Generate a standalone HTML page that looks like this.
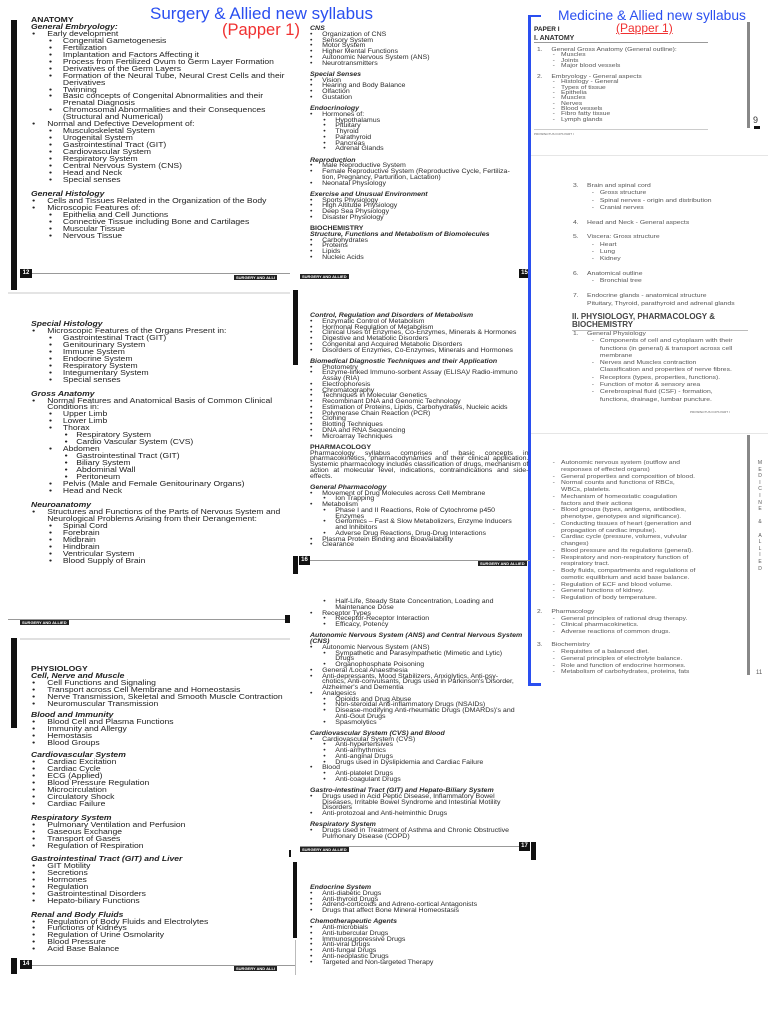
<!DOCTYPE html>
<html><head><meta charset="utf-8">
<style>
*{margin:0;padding:0;box-sizing:border-box}
body{width:768px;height:1024px;position:relative;background:#fff;font-family:"Liberation Sans",sans-serif;overflow:hidden}
.abs{position:absolute}
.blk{position:absolute;white-space:nowrap;transform-origin:0 0}
.blk div{position:relative}
.L{font-size:7.4px;line-height:6.95px;color:#222;transform:scaleX(1.16)}
.M{font-size:6.1px;line-height:5.75px;color:#2a2a2a;transform:scaleX(1.15)}
.R{font-size:5.6px;line-height:5.35px;color:#555;transform:scaleX(1.2)}
.R2{font-size:5.8px;line-height:7.3px;color:#555;transform:scaleX(1.17)}
.h{font-weight:bold}
.i{font-weight:bold;font-style:italic}
.L .a{padding-left:14px}.L .b{padding-left:27.5px}.L .c{padding-left:39px}
.L .a:before,.L .b:before,.L .c:before{content:"•";position:absolute}
.L .a:before{left:1px}.L .b:before{left:15.5px}.L .c:before{left:29px}
.L .ac{padding-left:14px}.L .bc{padding-left:27.5px}
.M .a{padding-left:10.5px}.M .b{padding-left:22px}.M .ac{padding-left:10.5px}.M .bc{padding-left:22px}
.M .a:before,.M .b:before{content:"•";position:absolute}
.M .a:before{left:0}.M .b:before{left:11.5px}
.R .n,.R2 .n{padding-left:12px}
.R .n span,.R2 .n span{position:absolute;left:0}
.R .d{padding-left:20px}.R .d:before{content:"-";position:absolute;left:13px}
.R2 .d{padding-left:23px}.R2 .d:before{content:"-";position:absolute;left:16px}
.R2 .dc{padding-left:23px}
.R .dc{padding-left:20px}
.g5{height:5.5px}.g7{height:7px}.g6{height:6px}
.bar{position:absolute;background:#111}
.tag{position:absolute;background:#222;color:#fff;font-size:4px;line-height:5px;font-weight:bold;padding:0 2px}
.num{position:absolute;background:#111;color:#fff;font-size:6px;font-weight:bold;line-height:9px;text-align:center}
.hl{position:absolute;background:#999;height:1px}
</style></head><body>

<!-- titles -->
<div class="abs" style="left:150px;top:4px;font-size:17px;color:#2a4ff0">Surgery &amp; Allied new syllabus</div>
<div class="abs" style="left:222px;top:21px;font-size:16.5px;color:#f03030">(Papper 1)</div>

<!-- left top panel -->
<div class="bar" style="left:11px;top:20px;width:6px;height:270px"></div>
<div class="blk L" style="left:31px;top:17px">
<div class="h">ANATOMY</div>
<div class="i">General Embryology:</div>
<div class="a">Early development</div>
<div class="b">Congenital Gametogenesis</div>
<div class="b">Fertilization</div>
<div class="b">Implantation and Factors Affecting it</div>
<div class="b">Process from Fertilized Ovum to Germ Layer Formation</div>
<div class="b">Derivatives of the Germ Layers</div>
<div class="b">Formation of the Neural Tube, Neural Crest Cells and their</div>
<div class="bc">Derivatives</div>
<div class="b">Twinning</div>
<div class="b">Basic concepts of Congenital Abnormalities and their</div>
<div class="bc">Prenatal Diagnosis</div>
<div class="b">Chromosomal Abnormalities and their Consequences</div>
<div class="bc">(Structural and Numerical)</div>
<div class="a">Normal and Defective Development of:</div>
<div class="b">Musculoskeletal System</div>
<div class="b">Urogenital System</div>
<div class="b">Gastrointestinal Tract (GIT)</div>
<div class="b">Cardiovascular System</div>
<div class="b">Respiratory System</div>
<div class="b">Central Nervous System (CNS)</div>
<div class="b">Head and Neck</div>
<div class="b">Special senses</div>
<div class="g7"></div>
<div class="i">General Histology</div>
<div class="a">Cells and Tissues Related in the Organization of the Body</div>
<div class="a">Microscopic Features of:</div>
<div class="b">Epithelia and Cell Junctions</div>
<div class="b">Connective Tissue including Bone and Cartilages</div>
<div class="b">Muscular Tissue</div>
<div class="b">Nervous Tissue</div>
</div>
<div class="hl" style="left:20px;top:273px;width:270px"></div>
<div class="num" style="left:20px;top:269px;width:12px">12</div>
<div class="tag" style="left:234px;top:275px">SURGERY AND ALLI</div>

<!-- middle top -->
<div class="blk M" style="left:310px;top:26px">
<div class="i">CNS</div>
<div class="a">Organization of CNS</div>
<div class="a">Sensory System</div>
<div class="a">Motor System</div>
<div class="a">Higher Mental Functions</div>
<div class="a">Autonomic Nervous System (ANS)</div>
<div class="a">Neurotransmitters</div>
<div class="g5"></div>
<div class="i">Special Senses</div>
<div class="a">Vision</div>
<div class="a">Hearing and Body Balance</div>
<div class="a">Olfaction</div>
<div class="a">Gustation</div>
<div class="g5"></div>
<div class="i">Endocrinology</div>
<div class="a">Hormones of:</div>
<div class="b">Hypothalamus</div>
<div class="b">Pituitary</div>
<div class="b">Thyroid</div>
<div class="b">Parathyroid</div>
<div class="b">Pancreas</div>
<div class="b">Adrenal Glands</div>
<div class="g5"></div>
<div class="i">Reproduction</div>
<div class="a">Male Reproductive System</div>
<div class="a">Female Reproductive System (Reproductive Cycle, Fertiliza-</div>
<div class="ac">tion, Pregnancy, Parturition, Lactation)</div>
<div class="a">Neonatal Physiology</div>
<div class="g5"></div>
<div class="i">Exercise and Unusual Environment</div>
<div class="a">Sports Physiology</div>
<div class="a">High Altitude Physiology</div>
<div class="a">Deep Sea Physiology</div>
<div class="a">Disaster Physiology</div>
<div class="g5"></div>
<div class="h">BIOCHEMISTRY</div>
<div class="i">Structure, Functions and Metabolism of Biomolecules</div>
<div class="a">Carbohydrates</div>
<div class="a">Proteins</div>
<div class="a">Lipids</div>
<div class="a">Nucleic Acids</div>
</div>
<div class="tag" style="left:300px;top:274px">SURGERY AND ALLIED</div>
<div class="num" style="left:519px;top:269px;width:11px">15</div>

<!-- blue frame -->
<div class="abs" style="left:528px;top:15px;width:3px;height:671px;background:#2a4ff0"></div>
<div class="abs" style="left:528px;top:15px;width:13px;height:2px;background:#2a4ff0"></div>
<div class="abs" style="left:528px;top:683px;width:13px;height:3px;background:#2a4ff0"></div>

<!-- right top -->
<div class="abs" style="left:558px;top:8px;font-size:13.8px;color:#2a4ff0">Medicine &amp; Allied new syllabus</div>
<div class="abs" style="left:616px;top:21px;font-size:12px;color:#f03030;text-decoration:underline">(Papper 1)</div>
<div class="abs h" style="left:534px;top:26px;font-size:6.5px;font-weight:bold;color:#222">PAPER I</div>
<div class="abs" style="left:534px;top:35px;font-size:7px;font-weight:bold;color:#333">I. ANATOMY</div>
<div class="hl" style="left:534px;top:42px;width:174px"></div>
<div class="blk R" style="left:537px;top:48px">
<div class="n"><span>1.</span>General Gross Anatomy (General outline):</div>
<div class="d">Muscles</div><div class="d">Joints</div><div class="d">Major blood vessels</div>
<div class="g5"></div>
<div class="n"><span>2.</span>Embryology - General aspects</div>
<div class="d">Histology - General</div><div class="d">Types of tissue</div><div class="d">Epithelia</div><div class="d">Muscles</div><div class="d">Nerves</div><div class="d">Blood vessels</div><div class="d">Fibro fatty tissue</div><div class="d">Lymph glands</div>
</div>
<div class="hl" style="left:534px;top:129px;width:174px;background:#ccc"></div>
<div class="abs" style="left:534px;top:132px;font-size:3px;color:#666">PROSPECTUS FCPS PART I</div>
<div class="abs" style="left:747px;top:22px;width:3px;height:106px;background:#888"></div>
<div class="abs" style="left:753px;top:115px;font-size:9px;color:#333">9</div>
<div class="abs" style="left:754px;top:126px;width:6px;height:3px;background:#111"></div>
<div class="hl" style="left:531px;top:155px;width:237px;background:#e6e6e6"></div>

<!-- right middle -->
<div class="blk R2" style="left:573px;top:183px">
<div class="n"><span>3.</span>Brain and spinal cord</div>
<div class="d">Gross structure</div><div class="d">Spinal nerves - origin and distribution</div><div class="d">Cranial nerves</div>
<div style="height:7.5px"></div>
<div class="n"><span>4.</span>Head and Neck - General aspects</div>
<div style="height:7.5px"></div>
<div class="n"><span>5.</span>Viscera: Gross structure</div>
<div class="d">Heart</div><div class="d">Lung</div><div class="d">Kidney</div>
<div style="height:7.5px"></div>
<div class="n"><span>6.</span>Anatomical outline</div>
<div class="d">Bronchial tree</div>
<div style="height:7.5px"></div>
<div class="n"><span>7.</span>Endocrine glands - anatomical structure</div>
<div class="n">Pituitary, Thyroid, parathyroid and adrenal glands</div>
</div>
<div class="abs" style="left:572px;top:313px;font-size:8px;line-height:8px;font-weight:bold;color:#444">II. PHYSIOLOGY, PHARMACOLOGY &amp;<br>BIOCHEMISTRY</div>
<div class="hl" style="left:572px;top:330px;width:176px;background:#bbb"></div>
<div class="blk R2" style="left:573px;top:331px">
<div class="n"><span>1.</span>General Physiology</div>
<div class="d">Components of cell and cytoplasm with their</div>
<div class="dc">functions (in general) &amp; transport across cell</div>
<div class="dc">membrane</div>
<div class="d">Nerves and Muscles contraction</div>
<div class="dc">Classification and properties of nerve fibres.</div>
<div class="d">Receptors (types, properties, functions).</div>
<div class="d">Function of motor &amp; sensory area</div>
<div class="d">Cerebrospinal fluid (CSF) - formation,</div>
<div class="dc">functions, drainage, lumbar puncture.</div>
</div>
<div class="abs" style="left:690px;top:410px;font-size:3px;color:#666">PROSPECTUS FCPS PART I</div>
<div class="hl" style="left:531px;top:433px;width:237px;background:#e6e6e6"></div>

<!-- right lower -->
<div class="abs" style="left:747px;top:435px;width:3px;height:240px;background:#888"></div>
<div class="blk R" style="left:537px;top:460px;line-height:6.75px">
<div class="d">Autonomic nervous system (outflow and</div>
<div class="dc">responses of effected organs)</div>
<div class="d">General properties and composition of blood.</div>
<div class="d">Normal counts and functions of RBCs,</div>
<div class="dc">WBCs, platelets.</div>
<div class="d">Mechanism of homeostatic coagulation</div>
<div class="dc">factors and their actions</div>
<div class="d">Blood groups (types, antigens, antibodies,</div>
<div class="dc">phenotype, genotypes and significance).</div>
<div class="d">Conducting tissues of heart (generation and</div>
<div class="dc">propagation of cardiac impulse).</div>
<div class="d">Cardiac cycle (pressure, volumes, vulvular</div>
<div class="dc">changes)</div>
<div class="d">Blood pressure and its regulations (general).</div>
<div class="d">Respiratory and non-respiratory function of</div>
<div class="dc">respiratory tract.</div>
<div class="d">Body fluids, compartments and regulations of</div>
<div class="dc">osmotic equilibrium and acid base balance.</div>
<div class="d">Regulation of ECF and blood volume.</div>
<div class="d">General functions of kidney.</div>
<div class="d">Regulation of body temperature.</div>
<div style="height:7px"></div>
<div class="n"><span>2.</span>Pharmacology</div>
<div class="d">General principles of rational drug therapy.</div>
<div class="d">Clinical pharmacokinetics.</div>
<div class="d">Adverse reactions of common drugs.</div>
<div style="height:6.5px"></div>
<div class="n"><span>3.</span>Biochemistry</div>
<div class="d">Requisites of a balanced diet.</div>
<div class="d">General principles of electrolyte balance.</div>
<div class="d">Role and function of endocrine hormones.</div>
<div class="d">Metabolism of carbohydrates, proteins, fats</div>
</div>
<div class="abs" style="left:757px;top:460px;width:6px;font-size:5px;line-height:6.6px;color:#555;text-align:center">M<br>E<br>D<br>I<br>C<br>I<br>N<br>E<br>&nbsp;<br>&amp;<br>&nbsp;<br>A<br>L<br>L<br>I<br>E<br>D</div>
<div class="abs" style="left:756px;top:670px;font-size:6px;color:#555">11</div>

<!-- left middle panel -->
<div class="hl" style="left:8px;top:292px;width:282px;background:#e4e4e4;height:2px"></div>
<div class="blk L" style="left:31px;top:321px">
<div class="i">Special Histology</div>
<div class="a">Microscopic Features of the Organs Present in:</div>
<div class="b">Gastrointestinal Tract (GIT)</div>
<div class="b">Genitourinary System</div>
<div class="b">Immune System</div>
<div class="b">Endocrine System</div>
<div class="b">Respiratory System</div>
<div class="b">Integumentary System</div>
<div class="b">Special senses</div>
<div class="g7"></div>
<div class="i">Gross Anatomy</div>
<div class="a">Normal Features and Anatomical Basis of Common Clinical</div>
<div class="ac">Conditions in:</div>
<div class="b">Upper Limb</div>
<div class="b">Lower Limb</div>
<div class="b">Thorax</div>
<div class="c">Respiratory System</div>
<div class="c">Cardio Vascular System (CVS)</div>
<div class="b">Abdomen</div>
<div class="c">Gastrointestinal Tract (GIT)</div>
<div class="c">Biliary System</div>
<div class="c">Abdominal Wall</div>
<div class="c">Peritoneum</div>
<div class="b">Pelvis (Male and Female Genitourinary Organs)</div>
<div class="b">Head and Neck</div>
<div class="g7"></div>
<div class="i">Neuroanatomy</div>
<div class="a">Structures and Functions of the Parts of Nervous System and</div>
<div class="ac">Neurological Problems Arising from their Derangement:</div>
<div class="b">Spinal Cord</div>
<div class="b">Forebrain</div>
<div class="b">Midbrain</div>
<div class="b">Hindbrain</div>
<div class="b">Ventricular System</div>
<div class="b">Blood Supply of Brain</div>
</div>
<div class="hl" style="left:8px;top:619px;width:280px"></div>
<div class="bar" style="left:285px;top:615px;width:5px;height:8px"></div>
<div class="tag" style="left:20px;top:620px">SURGERY AND ALLIED</div>

<!-- middle panel 2 -->
<div class="bar" style="left:293px;top:290px;width:5px;height:75px"></div>
<div class="blk M" style="left:310px;top:313px">
<div class="i">Control, Regulation and Disorders of Metabolism</div>
<div class="a">Enzymatic Control of Metabolism</div>
<div class="a">Hormonal Regulation of Metabolism</div>
<div class="a">Clinical Uses of Enzymes, Co-Enzymes, Minerals &amp; Hormones</div>
<div class="a">Digestive and Metabolic Disorders</div>
<div class="a">Congenital and Acquired Metabolic Disorders</div>
<div class="a">Disorders of Enzymes, Co-Enzymes, Minerals and Hormones</div>
<div class="g5"></div>
<div class="i">Biomedical Diagnostic Techniques and their Application</div>
<div class="a">Photometry</div>
<div class="a">Enzyme-linked Immuno-sorbent Assay (ELISA)/ Radio-immuno</div>
<div class="ac">Assay (RIA)</div>
<div class="a">Electrophoresis</div>
<div class="a">Chromatography</div>
<div class="a">Techniques in Molecular Genetics</div>
<div class="a">Recombinant DNA and Genomic Technology</div>
<div class="a">Estimation of Proteins, Lipids, Carbohydrates, Nucleic acids</div>
<div class="a">Polymerase Chain Reaction (PCR)</div>
<div class="a">Cloning</div>
<div class="a">Blotting Techniques</div>
<div class="a">DNA and RNA Sequencing</div>
<div class="a">Microarray Techniques</div>
<div class="g5"></div>
<div class="h">PHARMACOLOGY</div>
<div style="white-space:normal;width:190px;text-align:justify">Pharmacology syllabus comprises of basic concepts in pharmacokinetics, pharmacodynamics and their clinical application. Systemic pharmacology includes classification of drugs, mechanism of action at molecular level, indications, contraindications and side-effects.</div>
<div class="g5"></div>
<div class="i">General Pharmacology</div>
<div class="a">Movement of Drug Molecules across Cell Membrane</div>
<div class="b">Ion Trapping</div>
<div class="a">Metabolism</div>
<div class="b">Phase I and II Reactions, Role of Cytochrome p450</div>
<div class="bc">Enzymes</div>
<div class="b">Genomics – Fast &amp; Slow Metabolizers, Enzyme Inducers</div>
<div class="bc">and Inhibitors</div>
<div class="b">Adverse Drug Reactions, Drug-Drug Interactions</div>
<div class="a">Plasma Protein Binding and Bioavailability</div>
<div class="a">Clearance</div>
</div>
<div class="hl" style="left:300px;top:560px;width:230px"></div>
<div class="num" style="left:299px;top:556px;width:11px">16</div>
<div class="tag" style="left:478px;top:561px">SURGERY AND ALLIED</div>
<div class="bar" style="left:293px;top:556px;width:5px;height:18px"></div>

<!-- middle panel 3 -->
<div class="blk M" style="left:310px;top:599px">
<div class="b">Half-Life, Steady State Concentration, Loading and</div>
<div class="bc">Maintenance Dose</div>
<div class="a">Receptor Types</div>
<div class="b">Receptor-Receptor Interaction</div>
<div class="b">Efficacy, Potency</div>
<div class="g5"></div>
<div class="i">Autonomic Nervous System (ANS) and Central Nervous System</div>
<div class="i">(CNS)</div>
<div class="a">Autonomic Nervous System (ANS)</div>
<div class="b">Sympathetic and Parasympathetic (Mimetic and Lytic)</div>
<div class="bc">Drugs</div>
<div class="b">Organophosphate Poisoning</div>
<div class="a">General /Local Anaesthesia</div>
<div class="a">Anti-depressants, Mood Stabilizers, Anxiolytics, Anti-psy-</div>
<div class="ac">chotics, Anti-convulsants, Drugs used in Parkinson's Disorder,</div>
<div class="ac">Alzheimer's and Dementia</div>
<div class="a">Analgesics</div>
<div class="b">Opioids and Drug Abuse</div>
<div class="b">Non-steroidal Anti-inflammatory Drugs (NSAIDs)</div>
<div class="b">Disease-modifying Anti-rheumatic Drugs (DMARDs)'s and</div>
<div class="bc">Anti-Gout Drugs</div>
<div class="b">Spasmolytics</div>
<div class="g5"></div>
<div class="i">Cardiovascular System (CVS) and Blood</div>
<div class="a">Cardiovascular System (CVS)</div>
<div class="b">Anti-hypertensives</div>
<div class="b">Anti-arrhythmics</div>
<div class="b">Anti-anginal Drugs</div>
<div class="b">Drugs used in Dyslipidemia and Cardiac Failure</div>
<div class="a">Blood</div>
<div class="b">Anti-platelet Drugs</div>
<div class="b">Anti-coagulant Drugs</div>
<div class="g5"></div>
<div class="i">Gastro-intestinal Tract (GIT) and Hepato-Biliary System</div>
<div class="a">Drugs used in Acid Peptic Disease, Inflammatory Bowel</div>
<div class="ac">Diseases, Irritable Bowel Syndrome and Intestinal Motility</div>
<div class="ac">Disorders</div>
<div class="a">Anti-protozoal and Anti-helminthic Drugs</div>
<div class="g5"></div>
<div class="i">Respiratory System</div>
<div class="a">Drugs used in Treatment of Asthma and Chronic Obstructive</div>
<div class="ac">Pulmonary Disease (COPD)</div>
</div>
<div class="hl" style="left:300px;top:846px;width:230px"></div>
<div class="tag" style="left:300px;top:847px">SURGERY AND ALLIED</div>
<div class="num" style="left:519px;top:842px;width:11px">17</div>
<div class="bar" style="left:531px;top:842px;width:5px;height:18px"></div>
<div class="bar" style="left:289px;top:850px;width:2px;height:7px"></div>

<!-- middle panel 4 -->
<div class="bar" style="left:293px;top:862px;width:4px;height:76px"></div>
<div class="blk M" style="left:310px;top:885px">
<div class="i">Endocrine System</div>
<div class="a">Anti-diabetic Drugs</div>
<div class="a">Anti-thyroid Drugs</div>
<div class="a">Adreno-corticoids and Adreno-cortical Antagonists</div>
<div class="a">Drugs that affect Bone Mineral Homeostasis</div>
<div class="g5"></div>
<div class="i">Chemotherapeutic Agents</div>
<div class="a">Anti-microbials</div>
<div class="a">Anti-tubercular Drugs</div>
<div class="a">Immunosuppressive Drugs</div>
<div class="a">Anti-viral Drugs</div>
<div class="a">Anti-fungal Drugs</div>
<div class="a">Anti-neoplastic Drugs</div>
<div class="a">Targeted and Non-targeted Therapy</div>
</div>

<!-- left bottom panel -->
<div class="hl" style="left:20px;top:638px;width:270px;background:#e0e0e0;height:2px"></div>
<div class="bar" style="left:11px;top:638px;width:6px;height:90px"></div>
<div class="bar" style="left:11px;top:958px;width:6px;height:16px"></div>
<div class="blk L" style="left:31px;top:666px">
<div class="h">PHYSIOLOGY</div>
<div class="i">Cell, Nerve and Muscle</div>
<div class="a">Cell Functions and Signaling</div>
<div class="a">Transport across Cell Membrane and Homeostasis</div>
<div class="a">Nerve Transmission, Skeletal and Smooth Muscle Contraction</div>
<div class="a">Neuromuscular Transmission</div>
<div style="height:4px"></div>
<div class="i">Blood and Immunity</div>
<div class="a">Blood Cell and Plasma Functions</div>
<div class="a">Immunity and Allergy</div>
<div class="a">Hemostasis</div>
<div class="a">Blood Groups</div>
<div style="height:6px"></div>
<div class="i">Cardiovascular System</div>
<div class="a">Cardiac Excitation</div>
<div class="a">Cardiac Cycle</div>
<div class="a">ECG (Applied)</div>
<div class="a">Blood Pressure Regulation</div>
<div class="a">Microcirculation</div>
<div class="a">Circulatory Shock</div>
<div class="a">Cardiac Failure</div>
<div class="g7"></div>
<div class="i">Respiratory System</div>
<div class="a">Pulmonary Ventilation and Perfusion</div>
<div class="a">Gaseous Exchange</div>
<div class="a">Transport of Gases</div>
<div class="a">Regulation of Respiration</div>
<div style="height:6px"></div>
<div class="i">Gastrointestinal Tract (GIT) and Liver</div>
<div class="a">GIT Motility</div>
<div class="a">Secretions</div>
<div class="a">Hormones</div>
<div class="a">Regulation</div>
<div class="a">Gastrointestinal Disorders</div>
<div class="a">Hepato-biliary Functions</div>
<div class="g7"></div>
<div class="i">Renal and Body Fluids</div>
<div class="a">Regulation of Body Fluids and Electrolytes</div>
<div class="a">Functions of Kidneys</div>
<div class="a">Regulation of Urine Osmolarity</div>
<div class="a">Blood Pressure</div>
<div class="a">Acid Base Balance</div>
</div>
<div class="hl" style="left:20px;top:965px;width:275px"></div>
<div class="num" style="left:20px;top:960px;width:12px">14</div>
<div class="tag" style="left:234px;top:966px">SURGERY AND ALLI</div>
<div class="abs" style="left:295px;top:940px;width:1px;height:35px;background:#bbb"></div>
</body></html>
